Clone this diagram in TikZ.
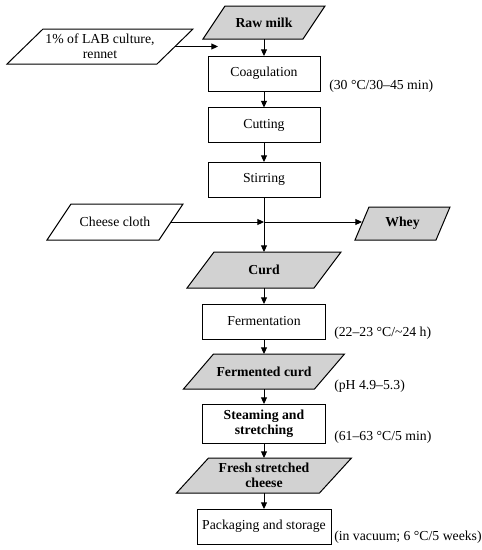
\documentclass[tikz,border=0pt]{standalone}
\usepackage{fontspec}
\setmainfont{Liberation Serif}
\usetikzlibrary{arrows.meta,backgrounds}
\definecolor{boxgray}{RGB}{210,210,210}
\newcommand\paradraw[3]{%
  \begin{scope}[on background layer]
    \draw[line width=0.75pt, fill=#3]
      ([xshift=#2*0.375pt]#1.north west) -- ([xshift=#2*0.375pt]#1.north east) --
      ([xshift=-#2*0.375pt]#1.south east) -- ([xshift=-#2*0.375pt]#1.south west) -- cycle;
  \end{scope}}
\begin{document}
\begin{tikzpicture}[x=0.75pt,y=-0.75pt,
  font=\fontsize{10.3}{11}\selectfont,
  proc/.style={draw, line width=0.75pt, minimum width=#1*0.75pt, minimum height=35*0.75pt, inner sep=1pt, align=center, outer sep=0pt},
  io/.style={rectangle, draw=none, minimum width=#1*0.75pt, inner sep=1pt, align=center, outer sep=0pt},
  prod/.style={io=#1, font=\fontsize{10.3}{11}\selectfont\bfseries},
  arr/.style={line width=0.75pt, -{Triangle[length=5pt,width=4.5pt]}},
  note/.style={anchor=west, inner sep=0pt}
]
\useasboundingbox (0,0) rectangle (482,550);

% nodes
\node[prod=100, minimum height=33*0.75pt] (raw) at (264,22.5) {Raw milk};
\paradraw{raw}{22}{boxgray}
\node[io=150, minimum height=35*0.75pt] (lab) at (100,46.5) {1\% of LAB culture,\\rennet};
\paradraw{lab}{36}{white}
\node[proc=112] (coag) at (264,73.5) {Coagulation};
\node[proc=112] (cut) at (264,125) {Cutting};
\node[proc=112] (stir) at (264,179.5) {Stirring};
\node[io=112, minimum height=36*0.75pt] (cloth) at (115,222) {Cheese cloth};
\paradraw{cloth}{24}{white}
\node[prod=81, minimum height=33*0.75pt] (whey) at (402.5,223.5) {Whey};
\paradraw{whey}{14}{boxgray}
\node[prod=127, minimum height=36*0.75pt] (curd) at (264,270) {Curd};
\paradraw{curd}{27}{boxgray}
\node[proc=123] (ferm) at (264,321.5) {Fermentation};
\node[prod=131, minimum height=35*0.75pt] (fcurd) at (264,371.5) {Fermented curd};
\paradraw{fcurd}{30}{boxgray}
\node[proc=123, minimum height=39*0.75pt, font=\fontsize{10.3}{11}\selectfont\bfseries] (steam) at (264,423.5) {Steaming and\\stretching};
\node[prod=143, minimum height=35*0.75pt] (fresh) at (264,475.5) {Fresh stretched\\cheese};
\paradraw{fresh}{32}{boxgray}
\node[proc=134] (pack) at (264,526.5) {Packaging and storage};

% notes
\node[note] (n1) at (329,86) {(30 °C/30–45 min)};
\node[note] (n2) at (334,333) {(22–23 °C/\textasciitilde24 h)};
\node[note] (n3) at (334,386) {(pH 4.9–5.3)};
\node[note] (n4) at (334,437) {(61–63 °C/5 min)};
\node[note] (n5) at (334,537) {(in vacuum; 6 °C/5 weeks)};

% connectors
\coordinate (labend) at (218,46.5);
\coordinate (junc) at (264,222);
\draw[arr] (raw) -- (coag);
\draw[arr] (lab.east) -- (labend);
\draw[arr] (coag) -- (cut);
\draw[arr] (cut) -- (stir);
\draw[arr] (stir) -- (curd);
\draw[arr] (cloth.east) -- (junc);
\draw[arr] (junc) -- (junc -| whey.west);
\draw[arr] (curd) -- (ferm);
\draw[arr] (ferm) -- (fcurd);
\draw[arr] (fcurd) -- (steam);
\draw[arr] (steam) -- (fresh);
\draw[arr] (fresh) -- (pack);
\end{tikzpicture}
\end{document}
